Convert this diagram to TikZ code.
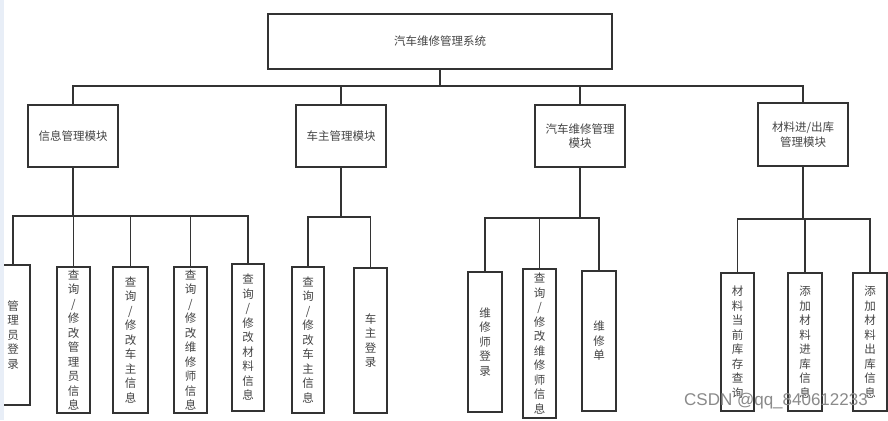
\documentclass[tikz,border=0pt]{standalone}
\usepackage{fontspec}
\setmainfont{Liberation Sans}
\newfontfamily\cjk{Noto Sans CJK SC}
\definecolor{linec}{HTML}{333333}
\definecolor{txtc}{HTML}{444444}
\definecolor{stripc}{HTML}{E8EEF7}
\definecolor{wmc}{HTML}{8A8A8A}
\begin{document}
\begin{tikzpicture}[x=1pt,y=-1pt,
  box/.style={draw=linec, line width=1.4pt, fill=white, inner sep=0pt, align=center,
    font=\cjk\fontsize{11.5}{14.5}\selectfont, text=txtc},
  conn/.style={draw=linec, line width=1.4pt}]
\useasboundingbox (0,0) rectangle (888,420);
\fill[white] (0,0) rectangle (888,420);
\begin{scope}
\clip (0,0) rectangle (888,420);
% top
\node[box, minimum width=344pt, minimum height=55pt] (top) at (440,41.5) {汽车维修管理系统};
% modules
\node[box, minimum width=90pt, minimum height=62pt] (m1) at (73,136) {信息管理模块};
\node[box, minimum width=90pt, minimum height=62pt] (m2) at (341,136) {车主管理模块};
\node[box, minimum width=90pt, minimum height=62pt] (m3) at (580,136) {汽车维修管理\\模块};
\node[box, minimum width=90pt, minimum height=63pt] (m4) at (803,134.5) {材料进/出库\\管理模块};
% leaves group 1
\node[box, minimum width=34pt, minimum height=140pt] (a1) at (13,335) {管\\理\\员\\登\\录};
\node[box, minimum width=33pt, minimum height=146pt] (a2) at (73.5,340) {查\\询\\/\\修\\改\\管\\理\\员\\信\\息};
\node[box, minimum width=35pt, minimum height=146pt] (a3) at (130.5,340) {查\\询\\/\\修\\改\\车\\主\\信\\息};
\node[box, minimum width=33pt, minimum height=146pt] (a4) at (190.5,340) {查\\询\\/\\修\\改\\维\\修\\师\\信\\息};
\node[box, minimum width=32pt, minimum height=147pt] (a5) at (248,337.5) {查\\询\\/\\修\\改\\材\\料\\信\\息};
% group 2
\node[box, minimum width=32pt, minimum height=146pt] (b1) at (308,340) {查\\询\\/\\修\\改\\车\\主\\信\\息};
\node[box, minimum width=33pt, minimum height=145pt] (b2) at (370.5,340.5) {车\\主\\登\\录};
% group 3
\node[box, minimum width=34pt, minimum height=140pt] (c1) at (485,342) {维\\修\\师\\登\\录};
\node[box, minimum width=33pt, minimum height=149pt] (c2) at (539.5,343.5) {查\\询\\/\\修\\改\\维\\修\\师\\信\\息};
\node[box, minimum width=34pt, minimum height=140pt] (c3) at (599,341) {维\\修\\单};
% group 4
\node[box, minimum width=33pt, minimum height=138pt] (d1) at (737.5,342) {材\\料\\当\\前\\库\\存\\查\\询};
\node[box, minimum width=34pt, minimum height=138pt] (d2) at (805,342) {添\\加\\材\\料\\进\\库\\信\\息};
\node[box, minimum width=34pt, minimum height=138pt] (d3) at (870,342) {添\\加\\材\\料\\出\\库\\信\\息};
% bus coordinates
\coordinate (bus0) at (0,86);
\coordinate (bus1) at (0,216);
\coordinate (bus2) at (0,217);
\coordinate (bus3) at (0,218);
\coordinate (bus4) at (0,219);
% connectors
\foreach \m in {m1,m2,m3,m4}
  \draw[conn] (top.south) -- (top.south |- bus0) -| (\m.north);
\foreach \c in {a1,a2,a3,a4,a5}
  \draw[conn] (m1.south) -- (m1.south |- bus1) -| (\c.north);
\foreach \c in {b1,b2}
  \draw[conn] (m2.south) -- (m2.south |- bus2) -| (\c.north);
\foreach \c in {c1,c2,c3}
  \draw[conn] (m3.south) -- (m3.south |- bus3) -| (\c.north);
\foreach \c in {d1,d2,d3}
  \draw[conn] (m4.south) -- (m4.south |- bus4) -| (\c.north);
\end{scope}
% left strip
\fill[stripc] (0,0) rectangle (4,420);
% watermark
\node[text=wmc, font=\fontsize{17}{17}\selectfont, inner sep=0pt] (wm) at (776,401) {CSDN @qq\_840612233};
\end{tikzpicture}
\end{document}
